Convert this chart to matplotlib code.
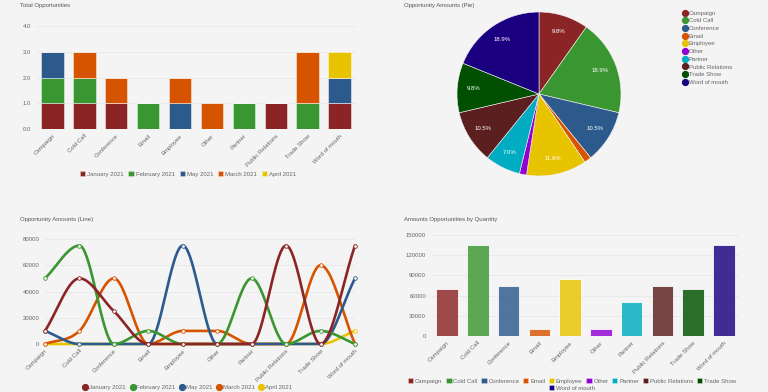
import numpy as np
import matplotlib
matplotlib.use("Agg")
import matplotlib.pyplot as plt
from matplotlib.patches import Patch
from matplotlib.lines import Line2D

plt.rcParams['font.family'] = ['Liberation Sans', 'DejaVu Sans']

# ---------------- data ----------------
categories = ["Campaign", "Cold Call", "Conference", "Email", "Employee", "Other",
              "Partner", "Public Relations", "Trade Show", "Word of mouth"]
months = ["January 2021", "February 2021", "May 2021", "March 2021", "April 2021"]

# counts per month (stacked bar)
count_jan = [1, 1, 1, 0, 0, 0, 0, 1, 0, 1]
count_feb = [1, 1, 0, 1, 0, 0, 1, 0, 1, 0]
count_may = [1, 0, 0, 0, 1, 0, 0, 0, 0, 1]
count_mar = [0, 1, 1, 0, 1, 1, 0, 0, 2, 0]
count_apr = [0, 0, 0, 0, 0, 0, 0, 0, 0, 1]

# amounts per month (line)
amt_jan = [10000, 50000, 25000, 0, 0, 0, 0, 75000, 0, 75000]
amt_feb = [50000, 75000, 0, 10000, 0, 0, 50000, 0, 10000, 0]
amt_may = [10000, 0, 0, 0, 75000, 0, 0, 0, 0, 50000]
amt_mar = [0, 10000, 50000, 0, 10000, 10000, 0, 0, 60000, 0]
amt_apr = [0, 0, 0, 0, 0, 0, 0, 0, 0, 10000]

# totals per category (pie / bar)
totals = [70000, 135000, 75000, 10000, 85000, 10000, 50000, 75000, 70000, 135000]

month_colors = ["#8B2525", "#3A9630", "#2C5A8C", "#D65400", "#E8C400"]
cat_colors = ["#8B2525", "#3A9630", "#2C5A8C", "#D65400", "#E8C400",
              "#9400D3", "#00ACC1", "#5B1F1F", "#005000", "#1A0080"]

BG = "#f4f4f4"
GRID = "#e7e7e7"
TXT = "#666666"
FS = 4.3

W, H = 768, 392
fig = plt.figure(figsize=(W / 100, H / 100), dpi=100, facecolor=BG)


def ax_px(l, t, r, b):
    ax = fig.add_axes([l / W, 1 - b / H, (r - l) / W, (b - t) / H])
    ax.set_facecolor(BG)
    return ax


def style(ax, yticks, ylabels, xticks):
    for s in ax.spines.values():
        s.set_visible(False)
    ax.set_yticks(yticks)
    ax.set_yticklabels(ylabels)
    ax.set_xticks(xticks)
    ax.set_xticklabels(categories, rotation=45, ha="right", rotation_mode="anchor")
    ax.tick_params(axis="both", length=0, labelsize=FS, labelcolor=TXT)
    ax.tick_params(axis="y", pad=4)
    ax.tick_params(axis="x", pad=3)
    ax.grid(axis="y", color=GRID, lw=0.6)
    ax.set_axisbelow(True)


def title(x, y, s):
    fig.text(x / W, 1 - y / H, s, fontsize=FS, color="#555555", va="center", ha="left")


# ---------------- top-left: stacked bar ----------------
ax1 = ax_px(36.5, 26, 355.5, 129)
x = np.arange(len(categories))
bottom = np.zeros(len(categories))
for vals, c in zip([count_jan, count_feb, count_may, count_mar, count_apr], month_colors):
    v = np.array(vals, dtype=float)
    ax1.bar(x, v, bottom=bottom, width=0.7, color=c, edgecolor=(1, 1, 1, 0.45), linewidth=0.7)
    bottom += v
ax1.set_xlim(-0.5, 9.5)
ax1.set_ylim(0, 4)
style(ax1, [0, 1, 2, 3, 4], ["0.0", "1.0", "2.0", "3.0", "4.0"], x)
title(20, 6, "Total Opportunities")
h1 = [Patch(facecolor=c, edgecolor=(1, 1, 1, 0.4), lw=0.5) for c in month_colors]
fig.legend(h1, months, loc="center", bbox_to_anchor=(188 / W, 1 - 174 / H), ncol=5,
           frameon=False, fontsize=FS, labelcolor=TXT, handlelength=0.9, handleheight=0.9,
           handletextpad=0.3, columnspacing=0.8, borderaxespad=0)

# ---------------- top-right: pie ----------------
cx, cy, R = 539, 94, 82
axp = ax_px(cx - R, cy - R, cx + R, cy + R)
wedges, texts, autotexts = axp.pie(
    totals, colors=cat_colors, startangle=90, counterclock=False,
    autopct=lambda p: f"{p:.1f}%" if p > 5 else "", pctdistance=0.8,
    wedgeprops=dict(edgecolor=BG, linewidth=0.4), radius=1.0)
for t in autotexts:
    t.set_color("white")
    t.set_fontsize(FS)
axp.set_xlim(-1, 1)
axp.set_ylim(-1, 1)
axp.set_aspect("equal")
axp.axis("off")
title(404, 6, "Opportunity Amounts (Pie)")
h2 = [Line2D([], [], marker="o", ls="", markerfacecolor=c, markeredgecolor=c, markersize=4.2)
      for c in cat_colors]
fig.legend(h2, categories, loc="upper left", bbox_to_anchor=(683 / W, 1 - 10.5 / H), ncol=1,
           frameon=False, fontsize=FS, labelcolor=TXT, handlelength=0.6, handletextpad=0.35,
           labelspacing=0.42, borderaxespad=0, borderpad=0)


# ---------------- bottom-left: smooth lines ----------------
def monotone(xs, ys, n=40):
    xs = np.asarray(xs, float)
    ys = np.asarray(ys, float)
    d = np.diff(ys) / np.diff(xs)
    m = np.zeros_like(ys)
    m[0] = d[0]
    m[-1] = d[-1]
    for i in range(1, len(ys) - 1):
        m[i] = 0 if d[i - 1] * d[i] <= 0 else (d[i - 1] + d[i]) / 2
    for i in range(len(d)):
        if d[i] == 0:
            m[i] = m[i + 1] = 0
            continue
        a = m[i] / d[i]
        b = m[i + 1] / d[i]
        s = a * a + b * b
        if s > 9:
            tau = 3 / np.sqrt(s)
            m[i] = a * tau * d[i]
            m[i + 1] = b * tau * d[i]
    X, Y = [], []
    for i in range(len(d)):
        h = xs[i + 1] - xs[i]
        t = np.linspace(0, 1, n)
        h00 = 2 * t ** 3 - 3 * t ** 2 + 1
        h10 = t ** 3 - 2 * t ** 2 + t
        h01 = -2 * t ** 3 + 3 * t ** 2
        h11 = t ** 3 - t ** 2
        X.append(xs[i] + t * h)
        Y.append(h00 * ys[i] + h10 * h * m[i] + h01 * ys[i + 1] + h11 * h * m[i + 1])
    return np.concatenate(X), np.concatenate(Y)


ax3 = ax_px(45, 239, 355, 344)
series = [amt_jan, amt_feb, amt_may, amt_mar, amt_apr]
for k, (vals, c) in enumerate(zip(series, month_colors)):
    z = 10 - 2 * k
    X, Y = monotone(x, vals)
    ax3.plot(X, Y, color=c, lw=1.9, clip_on=False, solid_capstyle="round", zorder=z)
    ax3.plot(x, vals, ls="", marker="o", markersize=2.6, markerfacecolor="white",
             markeredgecolor=c, markeredgewidth=0.6, clip_on=False, zorder=z + 0.5)
ax3.set_xlim(0, 9)
ax3.set_ylim(0, 80000)
style(ax3, [0, 20000, 40000, 60000, 80000], ["0", "20000", "40000", "60000", "80000"], x)
title(20, 219, "Opportunity Amounts (Line)")
h3 = [Line2D([], [], marker="o", ls="", markerfacecolor=c, markeredgecolor=c, markersize=4.2)
      for c in month_colors]
fig.legend(h3, months, loc="center", bbox_to_anchor=(188 / W, 1 - 387.5 / H), ncol=5,
           frameon=False, fontsize=FS, labelcolor=TXT, handlelength=0.6, handletextpad=0.35,
           columnspacing=0.8, borderaxespad=0, borderpad=0)

# ---------------- bottom-right: bar by category ----------------
ax4 = ax_px(431.6, 235, 739.4, 336)
ax4.bar(x, totals, width=0.7, color=cat_colors, alpha=0.82,
        edgecolor=(1, 1, 1, 0.6), linewidth=0.7)
ax4.set_xlim(-0.5, 9.5)
ax4.set_ylim(0, 150000)
style(ax4, [0, 30000, 60000, 90000, 120000, 150000],
      ["0", "30000", "60000", "90000", "120000", "150000"], x)
title(404, 219, "Amounts Opportunities by Quantity")
h4 = [Patch(facecolor=c, edgecolor=(1, 1, 1, 0.4), lw=0.5) for c in cat_colors]
fig.legend(h4[:9], categories[:9], loc="center", bbox_to_anchor=(572 / W, 1 - 381 / H), ncol=9,
           frameon=False, fontsize=FS, labelcolor=TXT, handlelength=0.9, handleheight=0.9,
           handletextpad=0.3, columnspacing=0.6, borderaxespad=0, borderpad=0)
fig.legend(h4[9:], categories[9:], loc="center", bbox_to_anchor=(572 / W, 1 - 388 / H), ncol=1,
           frameon=False, fontsize=FS, labelcolor=TXT, handlelength=0.9, handleheight=0.9,
           handletextpad=0.3, borderaxespad=0, borderpad=0)

fig.savefig("out.png", dpi=100, facecolor=BG)
